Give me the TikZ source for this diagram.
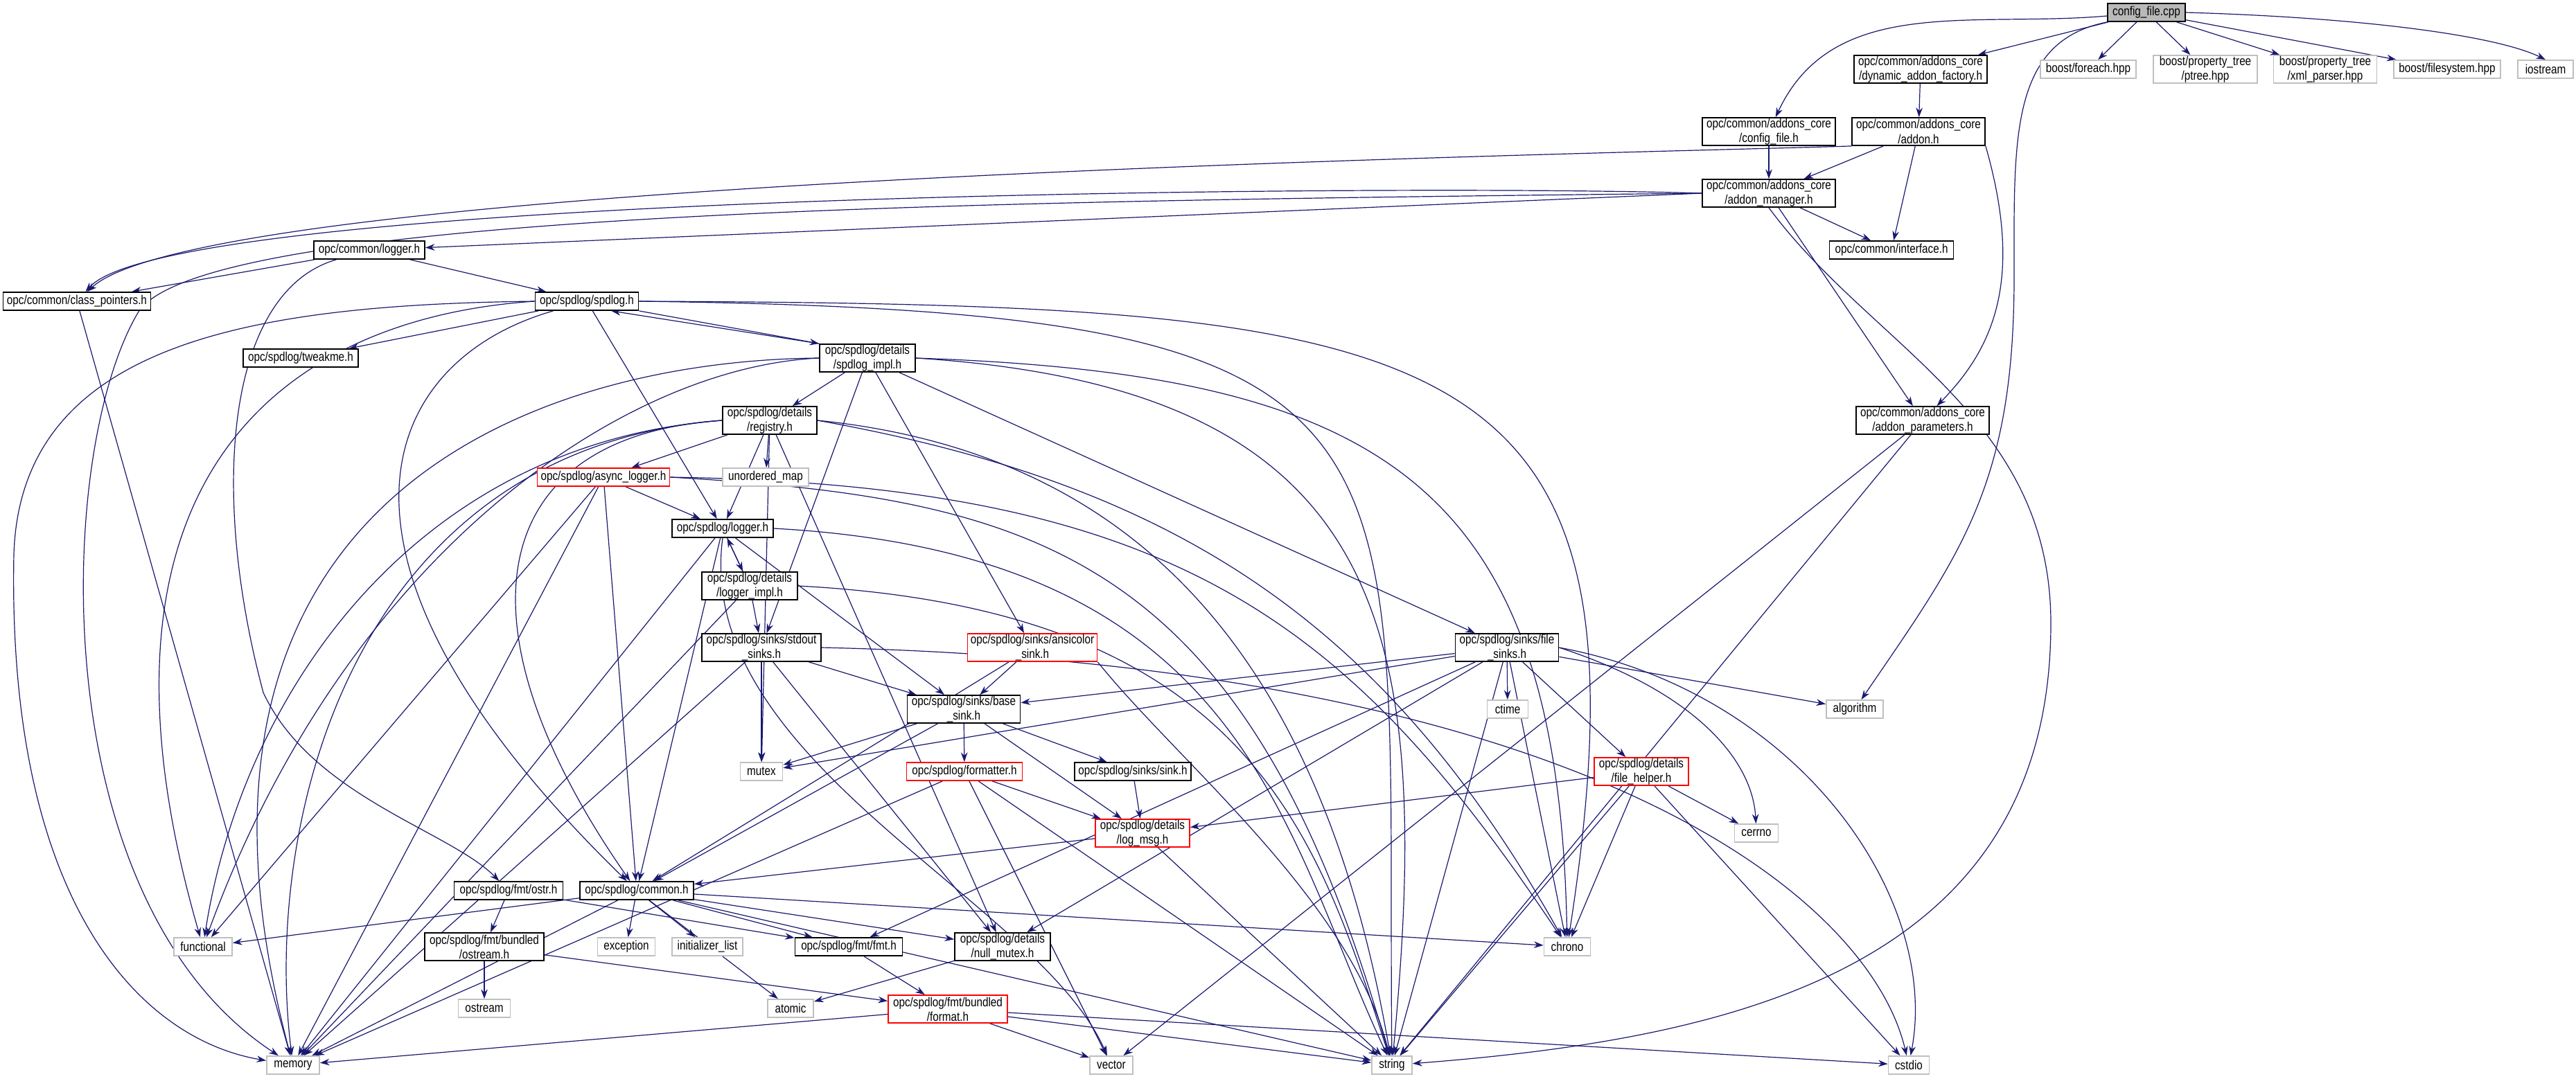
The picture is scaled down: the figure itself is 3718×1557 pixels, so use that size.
\documentclass[tikz,border=0pt]{standalone}
\usepackage{fontspec}
\setmainfont{Liberation Sans}[FakeStretch=0.83]
\usetikzlibrary{arrows.meta,backgrounds}
\definecolor{edge}{HTML}{191970}
\definecolor{gbox}{HTML}{BFBFBF}
\begin{document}
\begin{tikzpicture}[x=0.25pt,y=-0.25pt,
 base/.style={draw,fill=white,line width=0.45pt,inner sep=0pt,align=center,font=\fontsize{4.6}{5.3}\selectfont,minimum height=6.5pt},
 b/.style={base,draw=black},
 g/.style={base,draw=gbox},
 r/.style={base,draw=red},
 w/.style={minimum width=#1*0.25pt},
 tl/.style={minimum height=10pt},
 e/.style={draw=edge,line width=0.3pt,-{Stealth[length=3.4pt,width=2.4pt]}}]
\useasboundingbox (0,0) rectangle (3718,1557);
% nodes
\node[base,fill=gray!55,draw=black,w=112] (cpp) at (3098,18) {config\_file.cpp};
\node[b,w=192,tl] (dyn) at (2772,100) {opc/common/addons\_core\\/dynamic\_addon\_factory.h};
\node[g,w=138] (fe) at (3014,100) {boost/foreach.hpp};
\node[g,w=150,tl] (pt) at (3183,100) {boost/property\_tree\\/ptree.hpp};
\node[g,w=149,tl] (xp) at (3356,100) {boost/property\_tree\\/xml\_parser.hpp};
\node[g,w=154] (fs) at (3532,100) {boost/filesystem.hpp};
\node[g,w=80] (ios) at (3674,100) {iostream};
\node[b,w=192,tl] (cfh) at (2553,190) {opc/common/addons\_core\\/config\_file.h};
\node[b,w=192,tl] (addon) at (2769,190) {opc/common/addons\_core\\/addon.h};
\node[b,w=192,tl] (am) at (2553,279) {opc/common/addons\_core\\/addon\_manager.h};
\node[b,w=179] (iface) at (2730,361) {opc/common/interface.h};
\node[b,w=160] (clog) at (533,361) {opc/common/logger.h};
\node[b,w=213] (cp) at (111,435) {opc/common/class\_pointers.h};
\node[b,w=149] (spd) at (847,435) {opc/spdlog/spdlog.h};
\node[b,w=166] (tw) at (434,517) {opc/spdlog/tweakme.h};
\node[b,w=138,tl] (impl) at (1252,517) {opc/spdlog/details\\/spdlog\_impl.h};
\node[b,w=136,tl] (reg) at (1111,607) {opc/spdlog/details\\/registry.h};
\node[b,w=192,tl] (ap) at (2775,607) {opc/common/addons\_core\\/addon\_parameters.h};
\node[r,w=191] (async) at (871,689) {opc/spdlog/async\_logger.h};
\node[g,w=124] (um) at (1105,689) {unordered\_map};
\node[b,w=146] (slog) at (1043,763) {opc/spdlog/logger.h};
\node[b,w=138,tl] (limpl) at (1082,846) {opc/spdlog/details\\/logger\_impl.h};
\node[b,w=172,tl] (std) at (1099,935) {opc/spdlog/sinks/stdout\\\_sinks.h};
\node[r,w=187,tl] (ansi) at (1490,935) {opc/spdlog/sinks/ansicolor\\\_sink.h};
\node[b,w=149,tl] (fsk) at (2175,935) {opc/spdlog/sinks/file\\\_sinks.h};
\node[b,w=163,tl] (bs) at (1391,1024) {opc/spdlog/sinks/base\\\_sink.h};
\node[g,w=59] (ct) at (2176,1024) {ctime};
\node[g,w=82] (alg) at (2677,1024) {algorithm};
\node[g,w=61] (mtx) at (1099,1114) {mutex};
\node[r,w=167] (fmtr) at (1392,1114) {opc/spdlog/formatter.h};
\node[b,w=168] (sink) at (1635,1114) {opc/spdlog/sinks/sink.h};
\node[r,w=136,tl] (fh) at (2369,1114) {opc/spdlog/details\\/file\_helper.h};
\node[r,w=136,tl] (lm) at (1649,1203) {opc/spdlog/details\\/log\_msg.h};
\node[g,w=63] (cer) at (2535,1203) {cerrno};
\node[b,w=157] (ostr) at (734,1286) {opc/spdlog/fmt/ostr.h};
\node[b,w=164] (com) at (919,1286) {opc/spdlog/common.h};
\node[g,w=84] (func) at (293,1367) {functional};
\node[b,w=172,tl] (bos) at (699,1367) {opc/spdlog/fmt/bundled\\/ostream.h};
\node[g,w=83] (exc) at (904,1367) {exception};
\node[g,w=102] (il) at (1021,1367) {initializer\_list};
\node[b,w=155] (fmt) at (1225,1367) {opc/spdlog/fmt/fmt.h};
\node[b,w=138,tl] (nm) at (1447,1367) {opc/spdlog/details\\/null\_mutex.h};
\node[g,w=67] (chr) at (2262,1367) {chrono};
\node[g,w=75] (ost) at (699,1456) {ostream};
\node[g,w=66] (atm) at (1141,1456) {atomic};
\node[r,w=172,tl] (fmtb) at (1368,1457) {opc/spdlog/fmt/bundled\\/format.h};
\node[g,w=76] (mem) at (423,1538) {memory};
\node[g,w=62] (vec) at (1604,1538) {vector};
\node[g,w=58] (str) at (2009,1538) {string};
\node[g,w=59] (cst) at (2755,1538) {cstdio};
% edges
\begin{scope}[on background layer]
\fill[white] (0,0) rectangle (3718,1557);
\draw[e] (cpp) to[out=185,in=65] (cfh);
\draw[e] (cpp) -- (dyn);
\draw[e] (cpp) -- (fe);
\draw[e] (cpp) -- (pt);
\draw[e] (cpp) -- (xp);
\draw[e] (cpp) -- (fs);
\draw[e] (cpp.east) .. controls (3400,25) and (3600,50) .. (ios.north);
\draw[e] (cpp.south west) .. controls (2900,60) and (2907,200) .. (2907,400) .. controls (2907,700) and (2830,800) .. (alg);
\draw[e] (dyn) -- (addon);
\draw[e] (cfh) -- (am);
\draw[e] (addon) -- (am);
\draw[e] (addon) -- (iface);
\draw[e] (addon.south east) .. controls (2920,400) and (2880,500) .. (ap);
\draw[e] (addon.south west) .. controls (2200,225) and (300,260) .. (cp);
\draw[e] (am) -- (iface);
\draw[e] (am) -- (ap);
\draw[e] (am.west) .. controls (2000,265) and (250,280) .. (cp);
\draw[e] (am.west) -- (clog);
\draw[e] (am.south) .. controls (2700,500) and (2960,600) .. (2960,900) .. controls (2960,1400) and (2500,1500) .. (str);
\draw[e] (am.west) .. controls (1500,290) and (300,300) .. (200,450) .. controls (80,650) and (60,1300) .. (mem);
\draw[e] (clog) -- (cp);
\draw[e] (clog) -- (spd);
\draw[e] (clog) .. controls (330,420) and (300,700) .. (380,1000) .. controls (450,1150) and (650,1200) .. (ostr);
\draw[e] (spd) -- (tw);
\draw[e] (spd.south east) -- (impl.north west);
\draw[e] (impl.north west) -- ([xshift=-10]spd.south east);
\draw[e] (spd) -- (slog);
\draw[e] (spd) .. controls (550,520) and (420,800) .. (com);
\draw[e] (spd.west) .. controls (350,440) and (30,500) .. (20,800) .. controls (10,1300) and (200,1500) .. (mem);
\draw[e] (spd.west) .. controls (400,460) and (100,700) .. (func);
\draw[e] (spd.east) .. controls (2100,440) and (2400,480) .. (chr);
\draw[e] (spd.east) .. controls (2100,450) and (2000,600) .. (str);
\draw[e] (impl) -- (reg);
\draw[e] (impl.west) .. controls (800,520) and (200,700) .. (mem);
\draw[e] (impl.west) .. controls (900,530) and (500,800) .. (func);
\draw[e] (impl) -- (std);
\draw[e] (impl) -- (ansi);
\draw[e] (impl) -- (fsk);
\draw[e] (impl.east) .. controls (2000,540) and (2250,700) .. (chr);
\draw[e] (impl.east) .. controls (2000,560) and (2070,900) .. (str);
\draw[e] (reg) -- (async);
\draw[e] (reg) -- (um);
\draw[e] (reg) -- (slog);
\draw[e] (reg) -- (mtx);
\draw[e] (reg) -- (nm);
\draw[e] (reg.west) .. controls (700,630) and (650,900) .. (com);
\draw[e] (reg.west) .. controls (600,640) and (350,1000) .. (func);
\draw[e] (reg.west) .. controls (500,650) and (380,1200) .. (mem);
\draw[e] (reg.east) .. controls (1700,700) and (2000,900) .. (chr);
\draw[e] (reg.east) .. controls (1600,650) and (1900,900) .. (str);
\draw[e] (async) -- (slog);
\draw[e] (async) -- (com);
\draw[e] (async) -- (func);
\draw[e] (async) -- (mem);
\draw[e] (async.east) .. controls (1700,700) and (1950,900) .. (chr);
\draw[e] (async.east) .. controls (1500,720) and (1800,800) .. (str);
\draw[e] (slog) -- (limpl);
\draw[e] (limpl) -- (slog);
\draw[e] (slog) -- (bs);
\draw[e] (slog) -- (com);
\draw[e] (slog) -- (mem);
\draw[e] (slog.south) .. controls (1000,1100) and (1500,1300) .. (vec);
\draw[e] (slog.east) .. controls (1800,800) and (1850,1200) .. (str);
\draw[e] (limpl) -- (std);
\draw[e] (limpl) -- (mem);
\draw[e] (limpl.east) .. controls (1800,880) and (1900,1200) .. (str);
\draw[e] (std) -- (mtx);
\draw[e] (std) -- (bs);
\draw[e] (std) -- (nm);
\draw[e] (std) -- (mem);
\draw[e] (std.east) .. controls (2300,960) and (2700,1300) .. (cst);
\draw[e] (ansi) -- (bs);
\draw[e] (ansi) -- (com);
\draw[e] (ansi.south east) .. controls (1700,1100) and (1950,1300) .. (str);
\draw[e] (bs) -- (mtx);
\draw[e] (bs) -- (fmtr);
\draw[e] (bs) -- (sink);
\draw[e] (bs) -- (lm);
\draw[e] (bs) -- (com);
\draw[e] (fsk) -- (bs);
\draw[e] (fsk) -- (ct);
\draw[e] (fsk) -- (fh);
\draw[e] (fsk) -- (mtx);
\draw[e] (fsk) -- (nm);
\draw[e] (fsk) -- (fmt);
\draw[e] (fsk) -- (chr);
\draw[e] (fsk) -- (str);
\draw[e] (fsk) -- (alg);
\draw[e] (fsk.east) .. controls (2450,1000) and (2530,1100) .. (cer);
\draw[e] (fsk.east) .. controls (2600,1000) and (2800,1300) .. (cst);
\draw[e] (fmtr) -- (lm);
\draw[e] (fmtr) -- (vec);
\draw[e] (fmtr) -- (str);
\draw[e] (fmtr) -- (mem);
\draw[e] (sink) -- (lm);
\draw[e] (fh) -- (lm);
\draw[e] (fh) -- (cer);
\draw[e] (fh) -- (chr);
\draw[e] (fh) -- (str);
\draw[e] (fh) -- (cst);
\draw[e] (lm) -- (com);
\draw[e] (lm) -- (str);
\draw[e] (com) -- (func);
\draw[e] (com) -- (exc);
\draw[e] (com) -- (il);
\draw[e] (com) -- (atm);
\draw[e] (com) -- (fmt);
\draw[e] (com) -- (nm);
\draw[e] (com) -- (chr);
\draw[e] (com) -- (str);
\draw[e] (com) -- (mem);
\draw[e] (ostr) -- (bos);
\draw[e] (ostr) -- (fmt);
\draw[e] (bos) -- (ost);
\draw[e] (bos) -- (fmtb);
\draw[e] (fmt) -- (fmtb);
\draw[e] (nm) -- (atm);
\draw[e] (fmtb) -- (mem);
\draw[e] (fmtb) -- (vec);
\draw[e] (fmtb) -- (str);
\draw[e] (fmtb) -- (cst);
\draw[e] (cp) -- (mem);
\draw[e] (ap) -- (vec);
\draw[e] (ap) -- (str);
\end{scope}
\end{tikzpicture}
\end{document}
